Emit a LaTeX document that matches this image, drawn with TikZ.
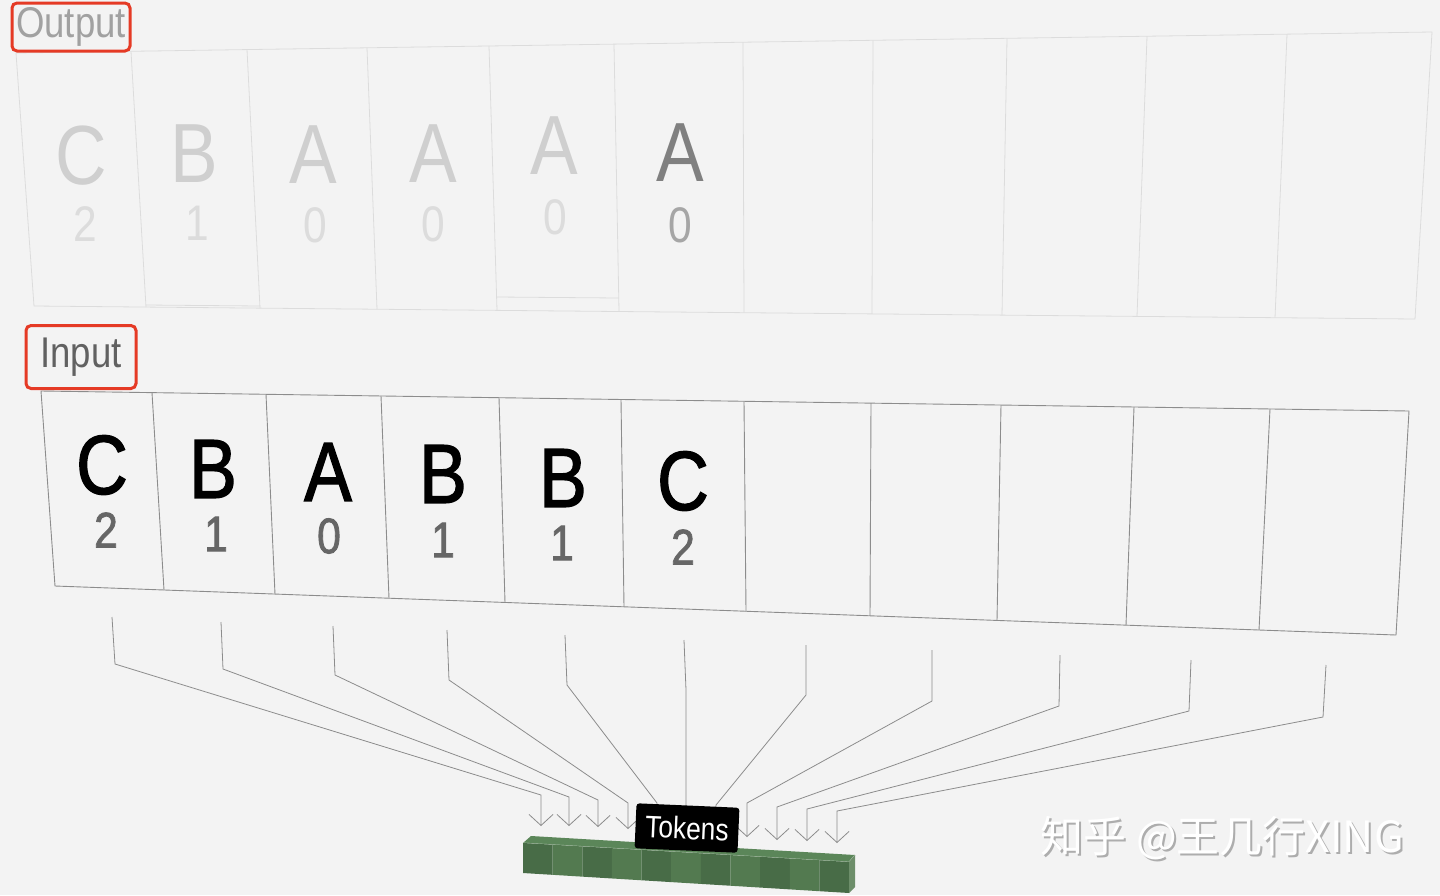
\documentclass[tikz,border=0pt]{standalone}
\usepackage{fontspec}
\setmainfont{Liberation Sans}[FakeStretch=0.85]
\newfontfamily\medium{Liberation Sans}[FakeStretch=0.85,FakeBold=1.6]
\newfontfamily\cjk{Noto Sans CJK SC}
\usetikzlibrary{arrows.meta}

\definecolor{bg}{HTML}{F3F3F3}
\definecolor{faintline}{HTML}{DCDCDC}
\definecolor{gridline}{HTML}{8C8C8C}
\definecolor{tagred}{HTML}{E53A25}
\definecolor{ghost}{HTML}{CFCFCF}
\definecolor{ghostnum}{HTML}{DCDCDC}
\definecolor{numgray}{HTML}{666666}
\definecolor{seg0}{HTML}{486C47}
\definecolor{seg1}{HTML}{537A50}
\definecolor{segtop}{HTML}{5B8659}

\tikzset{
  outgrid/.style={draw=faintline,line width=.8pt},
  ingrid/.style={draw=gridline,line width=.9pt},
  tag/.style={draw=tagred,line width=3pt,rounded corners=5pt,inner sep=0pt,
    font=\fontsize{43}{43}\selectfont},
  bigch/.style={font=\fontsize{84}{84}\selectfont,inner sep=0pt},
  smallch/.style={font=\fontsize{50}{50}\selectfont,inner sep=0pt},
  feed/.style={draw=gridline,line width=.8pt,-{Straight Barb[length=11pt,width=24pt]}},
}

\begin{document}
\begin{tikzpicture}[x=1pt,y=-1pt]
  \fill[bg] (0,0) rectangle (1440,895);

  % output row
  \draw[outgrid] (16,53) -- (1432,32) -- (1415,319) -- (34,306) -- cycle;
  \foreach \tx/\bx in {131/146,247/260,367/377,489/497,614/619,743/744,873/872,1007/1002,1147/1137,1287/1275}
    \draw[outgrid] (\tx,{53-(\tx-16)/1416*21}) -- (\bx,{306+(\bx-34)/1381*13});
  \draw[outgrid] (146,305) -- (260,306);
  \draw[outgrid] (497,297) -- (619,298);

  \node[tag,minimum width=118,minimum height=48,text=black!37] (outtag) at (71,27) {Output};

  \foreach \i/\ch/\n/\x/\y/\nx/\ny in {1/C/2/81/156/85/224,2/B/1/194/154/197/223,3/A/0/313/155/315/225,4/A/0/433/154/433/224,5/A/0/554/146/555/217}{
    \node[bigch,text=ghost] (ol\i) at (\x,\y) {\ch};
    \node[smallch,text=ghostnum] (on\i) at (\nx,\ny) {\n};
  }
  \node[bigch,text=black!50] (ol6) at (680,153) {A};
  \node[smallch,text=black!35] (on6) at (680,225) {0};

  % input row
  \draw[ingrid] (41,391) -- (1409,411) -- (1396,635) -- (55,586) -- cycle;
  \foreach \tx/\bx in {152/164,266/275,381/389,499/505,621/624,744/746,871/870,1001/997,1134/1126,1270/1259}
    \draw[ingrid] (\tx,{391+(\tx-41)/1368*20}) -- (\bx,{586+(\bx-55)/1341*49});

  \node[tag,minimum width=110,minimum height=63,text=black!62] (intag) at (81,357) {Input};

  \foreach \i/\ch/\n/\x/\y/\nx/\ny in {1/C/2/102/465/106/530,2/B/1/213/469/216/534,3/A/0/328/472/329/536,4/B/1/443/474/443/540,5/B/1/563/478/562/543,6/C/2/683/481/683/547}{
    \node[bigch,font=\medium\fontsize{84}{84}\selectfont] (il\i) at (\x,\y) {\ch};
    \node[smallch,font=\medium\fontsize{50}{50}\selectfont,text=numgray] (in\i) at (\nx,\ny) {\n};
  }

  % feeds into the tokens
  \foreach \i/\sx/\sy/\kx/\ky/\cx/\cy/\ty in {1/112/617/115/664/541/795/826,2/221/622/223/669/569/797/826,3/333/626/335/675/598/800/827,4/447/630/449/680/628/803/829,5/565/635/567/685/657/803/832,6/684/640/686/690/686/805/832,7/806/645/806/695/716/805/834,8/932/650/932/701/747/803/837,9/1060/655/1059/706/777/807/840,10/1191/660/1189/711/807/809/841,11/1326/665/1323/717/837/811/843}{
    \coordinate (src\i) at (\sx,\sy);
    \coordinate (knee\i) at (\kx,\ky);
    \coordinate (turn\i) at (\cx,\cy);
    \coordinate (tip\i) at (\cx,\ty);
    \draw[feed] (src\i) -- (knee\i) -- (turn\i) -- (tip\i);
  }

  % token bar
  \fill[segtop] (523,843) -- (531,836) -- (855,855) -- (849,862) -- cycle;
  \draw[white!55!segtop,line width=.8pt] (523,843) -- (849,862) -- (855,855);
  \foreach \i [evaluate=\i as \c using {int(mod(\i,2))}] in {0,...,10}
    \fill[seg\c] ({523+29.64*\i},{843+1.727*\i}) -- ({552.64+29.64*\i},{844.727+1.727*\i})
      -- ({552.64+29.64*\i},{874.818+1.818*\i}) -- ({523+29.64*\i},{873+1.818*\i}) -- cycle;
  \fill[seg1!85!white] (849,862) -- (855,855) -- (855,887) -- (849,893) -- cycle;

  \node[fill=black,text=white,rounded corners=3pt,minimum width=103,minimum height=45,
    inner sep=0pt,rotate=-2.5,font=\fontsize{31}{31}\selectfont] (tokens) at (687,828) {Tokens};

  % watermark
  \node[text=black!32,font=\cjk\fontsize{43}{43}\selectfont] (markshade) at (1224,840) {知乎 @王几行XING};
  \node[text=white,font=\cjk\fontsize{43}{43}\selectfont] (mark) at (1222,838) {知乎 @王几行XING};
\end{tikzpicture}
\end{document}
